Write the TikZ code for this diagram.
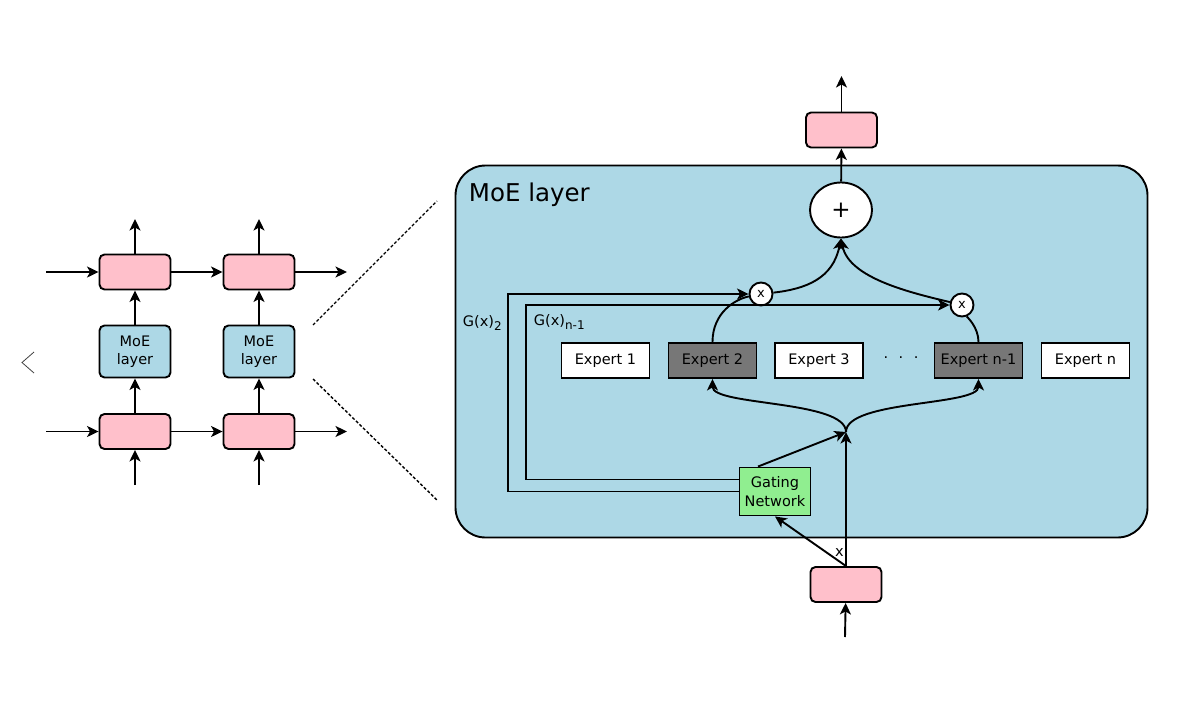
\documentclass[tikz,border=0pt]{standalone}
\usepackage{fontspec}
\setmainfont{DejaVu Sans}
\usetikzlibrary{arrows.meta,shapes.geometric}
\definecolor{boxpink}{HTML}{FFC0CB}
\definecolor{moeblue}{HTML}{ADD8E6}
\definecolor{gategreen}{HTML}{90EE90}
\definecolor{chosen}{HTML}{777777}
\newcommand{\txt}{\fontsize{14.5}{18.5}\selectfont}
\newcommand{\lowidx}[1]{\raisebox{-4.5pt}{\fontsize{12}{12}\selectfont #1}}

\begin{document}
\begin{tikzpicture}[x = 1pt, y = -1pt, line width = 1.9pt, font = \txt,
  >={Stealth[length=11.5pt,width=11pt,inset=3pt]},
  rbox/.style = {draw, rounded corners = 5pt, fill = boxpink, minimum width = 71pt, minimum height = 35pt, inner sep = 0pt},
  lbox/.style = {draw, rounded corners = 5pt, fill = moeblue, minimum width = 71pt, minimum height = 52pt, inner sep = 0pt, align = center},
  ebox/.style = {draw, fill = white, minimum width = 88pt, minimum height = 35pt, inner sep = 0pt},
  mult/.style = {draw, circle, fill = white, minimum size = 23pt, inner sep = 0pt, font = \fontsize{13}{13}\selectfont},
  zoomline/.style = {line width = 1.4pt, dash pattern = on 3pt off 2pt}]
\useasboundingbox (0,0) rectangle (1200,701);

\node[draw, fill = moeblue, rounded corners = 30pt, minimum width = 692pt, minimum height = 372pt] (v7) at (801.5,351.5) {};
\node[anchor = base west, inner sep = 0pt, font = \fontsize{24.5}{24.5}\selectfont] (v8) at (468,201) {MoE layer};

\node[rbox] (v1) at (135,272) {};
\node[rbox] (v2) at (259,272) {};
\node[lbox] (v3) at (135,351.5) {MoE\\layer};
\node[lbox] (v4) at (259,351.5) {MoE\\layer};
\node[rbox] (v5) at (135,431.5) {};
\node[rbox] (v6) at (259,431.5) {};

\node[ebox] (v9) at (605.5,360.5) {Expert 1};
\node[ebox, fill = chosen] (v10) at (712.5,360.5) {Expert 2};
\node[ebox] (v11) at (819,360.5) {Expert 3};
\node (v12) at (901,358) {.\hspace{10.5pt}.\hspace{10.5pt}.};
\node[ebox, fill = chosen] (v13) at (978.5,360.5) {Expert n-1};
\node[ebox] (v14) at (1085.5,360.5) {Expert n};

\node[draw, fill = gategreen, minimum width = 71pt, minimum height = 48pt, inner sep = 0pt, align = center] (v15) at (775,491.5) {Gating\\Network};
\node[draw, ellipse, fill = white, minimum width = 62pt, minimum height = 55pt, inner sep = 0pt, font = \fontsize{23}{23}\selectfont] (v16) at (841,210) {+};
\node[rbox] (v17) at (841.5,130) {};
\node[rbox] (v18) at (846,584.5) {};
\node[mult] (v19) at (761,294) {x};
\node[mult] (v20) at (962,305) {x};

\node[anchor = base west, inner sep = 0pt] (v21) at (462,326) {G(x)\lowidx{2}};
\node[anchor = base west, inner sep = 0pt] (v22) at (533,325) {G(x)\lowidx{n-1}};
\node (v23) at (839.5,552.5) {x};

\coordinate (c1) at (46,272);
\coordinate (c2) at (347,272);
\coordinate (c3) at (46,431.5);
\coordinate (c4) at (347,431.5);
\coordinate (c5) at (135,219);
\coordinate (c6) at (259,219);
\coordinate (c7) at (135,485);
\coordinate (c8) at (259,485);
\coordinate (c9) at (313,325);
\coordinate (c10) at (437,201);
\coordinate (c11) at (313,379);
\coordinate (c12) at (437,500);
\coordinate (c13) at (841.5,76);
\coordinate (c14) at (845,637);
\coordinate (c15) at (846,432);
\coordinate (c16) at (34,352);
\coordinate (c17) at (22,362.5);
\coordinate (c18) at (34,373);

\draw[->] (c1) -- (v1);
\draw[->] (v1) -- (v2);
\draw[->] (v2) -- (c2);
\draw[->] (c3) -- (v5);
\draw[->] (v5) -- (v6);
\draw[->] (v6) -- (c4);
\draw[->] (v1) -- (c5);
\draw[->] (v2) -- (c6);
\draw[->] (v3) -- (v1);
\draw[->] (v4) -- (v2);
\draw[->] (v5) -- (v3);
\draw[->] (v6) -- (v4);
\draw[->] (c7) -- (v5);
\draw[->] (c8) -- (v6);
\draw[zoomline] (c9) -- (c10);
\draw[zoomline] (c11) -- (c12);
\draw[line width = 0.8pt, black!75] (c16) -- (c17) -- (c18);

\draw[->] (v16) -- (v17);
\draw[->] (v17) -- (c13);
\draw[->] (c14) -- (v18);
\draw[->] (v18.north) -- (c15);
\draw[->] (v18.north) -- (v15.south);
\draw[->] ([xshift=-17pt]v15.north) -- (c15);
\draw[->] (c15) .. controls +(0,-32) and +(0,27) .. (v10.south);
\draw[->] (c15) .. controls +(0,-32) and +(0,27) .. (v13.south);
\draw (v10.north) .. controls +(0,-30) and +(-25,5) .. (v19);
\draw (v13.north) .. controls +(0,-15) and +(5,12) .. (v20);
\draw[->] (v19) .. controls +(45,-5) and +(-8,40) .. (v16.south);
\draw[->] (v20) .. controls +(-50,-12) and +(8,40) .. (v16.south);
\draw[->] (v15.west) -- ++(-231,0) |- (v19);
\draw[->] ([yshift=12pt]v15.west) -- ++(-213,0) |- (v20);
\end{tikzpicture}
\end{document}
